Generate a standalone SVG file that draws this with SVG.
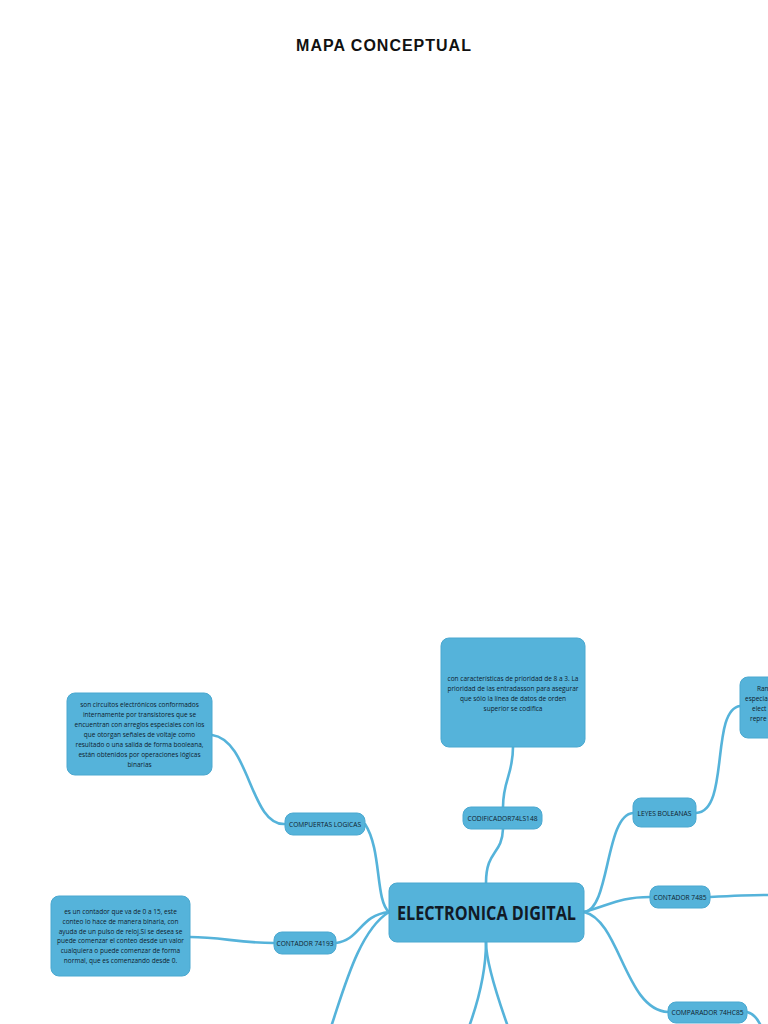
<svg xmlns="http://www.w3.org/2000/svg" width="768" height="1024" viewBox="0 0 768 1024">
<style>
.box{fill:#55b3da;stroke:#4aa8d0;stroke-width:1}
.lbl{font-family:"Open Sans","DejaVu Sans Condensed",sans-serif;font-size:7px;fill:#0f1c2c;text-anchor:middle}
.desc{font-family:"Open Sans","DejaVu Sans Condensed",sans-serif;font-size:6.5px;fill:#0f1c2c;text-anchor:middle}
.c{fill:none;stroke:#55b3da;stroke-width:2.6;stroke-linecap:round}
</style>
<rect width="768" height="1024" fill="#ffffff"/>
<text x="384" y="51" font-family="'Liberation Sans',Arial,sans-serif" font-size="16" font-weight="bold" letter-spacing="1" text-anchor="middle" fill="#111">MAPA CONCEPTUAL</text>
<g id="connectors">
<path class="c" d="M389,912 C375,900 382,850 365,824"/>
<path class="c" d="M285,824 C250,826 250,740 212,735"/>
<path class="c" d="M389,912 C360,915 360,940 336,943"/>
<path class="c" d="M274,943 C240,943 220,937 190,937"/>
<path class="c" d="M389,912 C360,930 345,985 332,1024"/>
<path class="c" d="M486,942 C486,960 482,990 470,1024"/>
<path class="c" d="M486,942 C486,960 495,990 507,1024"/>
<path class="c" d="M486,883 C486,850 502,855 503,829"/>
<path class="c" d="M503,807 C503,780 513,775 513,747"/>
<path class="c" d="M584,912 C610,910 605,815 633,813"/>
<path class="c" d="M696,813 C730,812 710,710 740,706"/>
<path class="c" d="M584,912 C610,905 620,897 650,897"/>
<path class="c" d="M584,912 C620,920 625,1010 668,1012"/>
<path class="c" d="M710,897 C730,896 750,895 768,895"/>
<path class="c" d="M747,1012 C755,1014 758,1020 760,1024"/>
</g>
<g id="n-central">
<rect class="box" x="389" y="883" width="195" height="59" rx="8"/>
<text x="486.5" y="920" font-family="'Open Sans','DejaVu Sans',sans-serif" font-weight="bold" font-size="19" fill="#111a26" text-anchor="middle" textLength="179" lengthAdjust="spacingAndGlyphs">ELECTRONICA DIGITAL</text>
</g>
<g id="n-codificador">
<rect class="box" x="463" y="807" width="79" height="22" rx="8"/>
<text class="lbl" x="502.5" y="820.5" textLength="70" lengthAdjust="spacingAndGlyphs">CODIFICADOR74LS148</text>
</g>
<g id="n-codificador-desc">
<rect class="box" x="441" y="638" width="144" height="109" rx="8"/>
<text class="desc" x="513" y="681">con características de prioridad de 8 a 3. La</text>
<text class="desc" x="513" y="691">prioridad de las entradasson para asegurar</text>
<text class="desc" x="513" y="701">que sólo la línea de datos de orden</text>
<text class="desc" x="513" y="711">superior se codifica</text>
</g>
<g id="n-compuertas">
<rect class="box" x="285" y="813" width="80" height="22" rx="8"/>
<text class="lbl" x="325" y="826.5" textLength="72" lengthAdjust="spacingAndGlyphs">COMPUERTAS LOGICAS</text>
</g>
<g id="n-compuertas-desc">
<rect class="box" x="67" y="693" width="145" height="82" rx="8"/>
<text class="desc" x="139.5" y="707">son circuitos electrónicos conformados</text>
<text class="desc" x="139.5" y="717">internamente por transistores que se</text>
<text class="desc" x="139.5" y="727">encuentran con arreglos especiales con los</text>
<text class="desc" x="139.5" y="737">que otorgan señales de voltaje como</text>
<text class="desc" x="139.5" y="747">resultado o una salida de forma booleana,</text>
<text class="desc" x="139.5" y="757">están obtenidos por operaciones lógicas</text>
<text class="desc" x="139.5" y="767">binarias</text>
</g>
<g id="n-contador74193">
<rect class="box" x="274" y="932" width="62" height="22" rx="8"/>
<text class="lbl" x="305" y="945.5" textLength="57" lengthAdjust="spacingAndGlyphs">CONTADOR 74193</text>
</g>
<g id="n-contador74193-desc">
<rect class="box" x="51" y="896" width="139" height="80" rx="8"/>
<text class="desc" x="120.5" y="914">es un contador que va de 0 a 15, este</text>
<text class="desc" x="120.5" y="924">conteo lo hace de manera binaria, con</text>
<text class="desc" x="120.5" y="934">ayuda de un pulso de reloj.Si se desea se</text>
<text class="desc" x="120.5" y="943">puede comenzar el conteo desde un valor</text>
<text class="desc" x="120.5" y="953">cualquiera o puede comenzar de forma</text>
<text class="desc" x="120.5" y="963">normal, que es comenzando desde 0.</text>
</g>
<g id="n-leyes">
<rect class="box" x="633" y="798" width="63" height="29" rx="8"/>
<text class="lbl" x="664.5" y="815.5" textLength="54" lengthAdjust="spacingAndGlyphs">LEYES BOLEANAS</text>
</g>
<g id="n-leyes-desc">
<rect class="box" x="740" y="677" width="40" height="61" rx="8"/>
<text class="desc" x="757" y="691" style="text-anchor:start">Ram</text>
<text class="desc" x="745" y="701" style="text-anchor:start">especia</text>
<text class="desc" x="752" y="711" style="text-anchor:start">elect</text>
<text class="desc" x="750" y="721" style="text-anchor:start">repre</text>
</g>
<g id="n-contador7485">
<rect class="box" x="650" y="886" width="60" height="22" rx="8"/>
<text class="lbl" x="680" y="899.5" textLength="53" lengthAdjust="spacingAndGlyphs">CONTADOR 7485</text>
</g>
<g id="n-comparador">
<rect class="box" x="668" y="1002" width="79" height="21" rx="8"/>
<text class="lbl" x="707.5" y="1015" textLength="72" lengthAdjust="spacingAndGlyphs">COMPARADOR 74HC85</text>
</g>
</svg>
